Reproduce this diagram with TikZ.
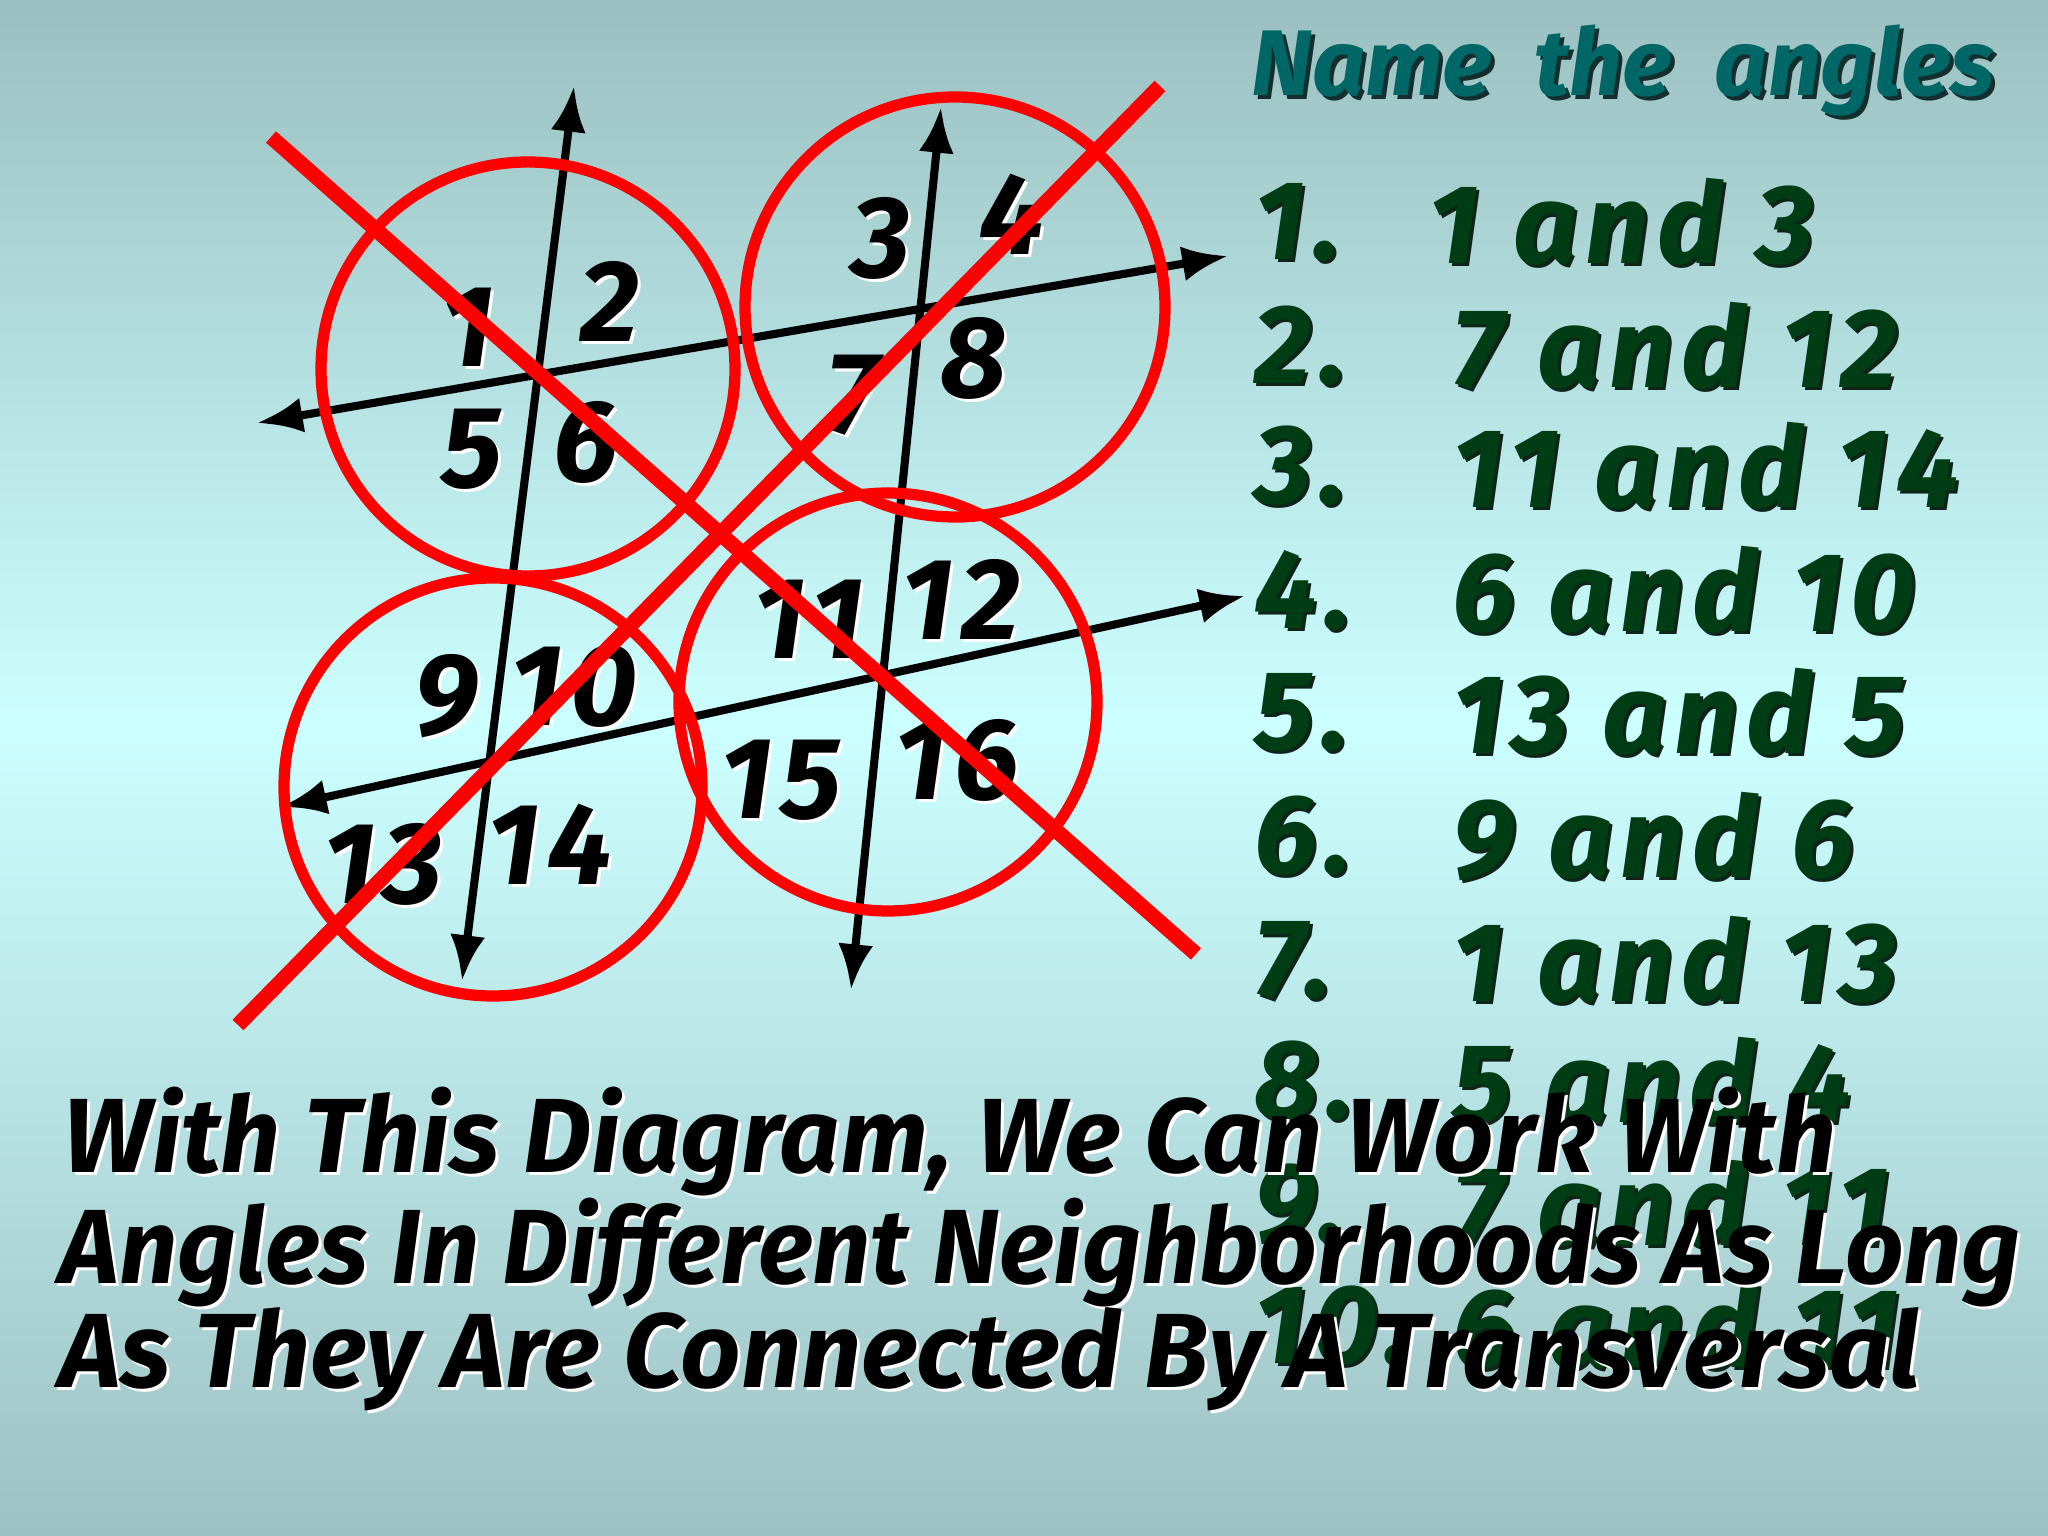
\documentclass[tikz,border=0pt]{standalone}
\usepackage{fontspec}
\setmainfont{Fira Sans}
\usetikzlibrary{arrows.meta}
\tikzset{>={Latex[length=13pt,width=10pt]}}

\definecolor{bgtop}{RGB}{155,191,192}
\definecolor{bgmid}{RGB}{204,255,255}
\definecolor{bgbot}{RGB}{158,193,195}
\definecolor{titleteal}{RGB}{0,102,102}
\definecolor{titleshade}{RGB}{20,45,45}
\definecolor{listgreen}{RGB}{0,60,20}
\definecolor{listshade}{RGB}{15,35,25}

\tikzset{
  lineboth/.style={line width=2.3pt, <->},
  ring/.style={red, line width=3.2pt},
  cross/.style={red, line width=4.3pt},
  angnum/.style={font=\fontsize{33}{33}\selectfont\bfseries\itshape\addfontfeature{LetterSpace=6}, inner sep=0pt},
  titletext/.style={font=\fontsize{26.5}{26.5}\selectfont\bfseries\itshape, inner sep=0pt},
  listtext/.style={font=\fontsize{32}{32}\selectfont\bfseries\itshape\addfontfeature{LetterSpace=7}, inner sep=0pt, anchor=west},
  bodytext/.style={font=\fontsize{30}{30}\selectfont\bfseries\itshape, inner sep=0pt, anchor=base west}
}

\begin{document}
\begin{tikzpicture}[x=0.01cm, y=0.01cm]
  % background
  \shade[top color=bgtop, bottom color=bgmid] (0,811) rectangle (2048,1536);
  \shade[top color=bgmid, bottom color=bgbot] (0,0) rectangle (2048,811);
  \useasboundingbox (0,0) rectangle (2048,1536);

  % transversals and parallel lines
  \coordinate (lt) at (574,1450);
  \coordinate (lb) at (462,555);
  \coordinate (rt) at (941,1429);
  \coordinate (rb) at (851,546);
  \coordinate (ul) at (257,1113);
  \coordinate (ur) at (1228,1280);
  \coordinate (dl) at (281,729);
  \coordinate (dr) at (1245,940);
  \draw[lineboth] (lb) -- (lt);
  \draw[lineboth] (rb) -- (rt);
  \draw[lineboth] (ul) -- (ur);
  \draw[lineboth] (dl) -- (dr);

  % angle numbers
  \foreach \t/\x/\y in {1/468/1209, 2/610/1235, 5/472/1087, 6/586/1094,
                        3/881/1298, 4/1012/1322, 7/853/1141, 8/974/1178,
                        9/446/840, 10/574/850, 13/383/672, 14/550/692,
                        11/809/917, 12/961/937, 15/781/756, 16/957/776} {
    \node[angnum, white] (s\t) at (\x+3,\y-3) {\t};
    \node[angnum] (n\t) at (\x,\y) {\t};
  }

  % neighborhoods
  \draw[ring] (528,1167) circle[radius=207];
  \draw[ring] (955,1229) circle[radius=210];
  \draw[ring] (493,749) circle[radius=209];
  \draw[ring] (888,834) circle[radius=209];

  % crossed out
  \draw[cross] (271,1399) -- (1196,582);
  \draw[cross] (238,511) -- (1160,1450);

  % title
  \node[titletext, titleshade] (tsh) at (1627,1461) {Name\ \ the\ \ angles};
  \node[titletext, titleteal] (title) at (1623,1465) {Name\ \ the\ \ angles};

  % list
  \foreach \i/\y/\x/\t in {1/1314/1428/{1 and 3}, 2/1190/1452/{7 and 12},
                           3/1070/1452/{11 and 14}, 4/946/1452/{6 and 10},
                           5/824/1452/{13 and 5}, 6/700/1452/{9 and 6},
                           7/576/1452/{1 and 13}, 8/455/1452/{5 and 4},
                           9/332/1452/{7 and 11}, 10/210/1452/{6 and 11}} {
    \node[listtext, listshade] (ks\i) at (1257,\y-3) {\i.};
    \node[listtext, listgreen] (k\i) at (1254,\y) {\i.};
    \node[listtext, listshade] (vs\i) at (\x+3,\y-3) {\t};
    \node[listtext, listgreen] (v\i) at (\x,\y) {\t};
  }

  % remark
  \node[bodytext, white] (bs1) at (66,360) {With This Diagram, We Can Work With};
  \node[bodytext] (b1) at (63,363) {With This Diagram, We Can Work With};
  \node[bodytext, white] (bs2) at (62,249) {\scalebox{0.97}[1]{Angles In Different Neighborhoods As Long}};
  \node[bodytext] (b2) at (59,252) {\scalebox{0.97}[1]{Angles In Different Neighborhoods As Long}};
  \node[bodytext, white] (bs3) at (62,145) {As They Are Connected By A Transversal};
  \node[bodytext] (b3) at (59,148) {As They Are Connected By A Transversal};
\end{tikzpicture}
\end{document}
